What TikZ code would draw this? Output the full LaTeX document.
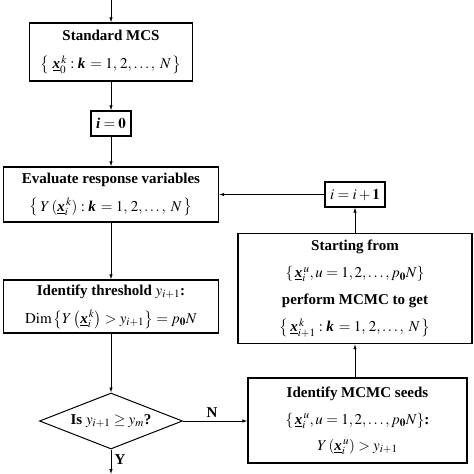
\documentclass[tikz,border=0pt]{standalone}
\usepackage{amsmath}
\usepackage{amssymb}
\usepackage{mathptmx}
\usepackage{fontspec}
\setmainfont{Liberation Serif}
\usetikzlibrary{shapes.geometric,arrows.meta}
\newcommand{\ux}{\underline{\textbf{\textit{x}}}}
\newcommand{\bk}{\textbf{\textit{k}}}
\tikzset{
  box/.style={draw, line width=1.4pt, align=center, inner sep=2pt},
  cond/.style={draw, line width=1pt, diamond, aspect=2.55, inner sep=0pt,
    minimum width=143pt, minimum height=56pt},
  arr/.style={line width=0.8pt, -{Latex[length=5pt,width=3.5pt]}},
  every node/.style={font=\fontsize{15}{26}\selectfont}
}
\begin{document}
\begin{tikzpicture}[x=1pt,y=-1pt]
\useasboundingbox (0,0) rectangle (474,474);
\coordinate (start) at (111,0);
\coordinate (stop) at (111,474);
% left column
\node[box, minimum width=163pt, minimum height=58pt] (mcs) at (111,52)
  {\textbf{Standard MCS}\\[2pt] $\left\{\;\ux_0^{\,k} : \bk\, = 1,\, 2, \dots,\; N\,\right\}$};
\node[box, minimum width=40pt, minimum height=25pt] (init) at (111,123.5)
  {$\textbf{\textit{i}}=\mathbf{0}$};
\node[box, minimum width=215pt, minimum height=55pt] (eval) at (111,194.5)
  {\textbf{Evaluate response variables}\\[2pt] $\left\{\,Y\,(\ux_i^{\,k}) : \bk\, = 1,\, 2, \dots,\; N\,\right\}$};
\node[box, minimum width=215pt, minimum height=53pt] (thr) at (111,306.5)
  {\textbf{Identify threshold $y_{i+1}$:}\\[2pt] $\mathrm{Dim}\left\{Y\left(\ux_i^{\,k}\right) > y_{i+1}\right\} = p_{\mathbf{0}}N$};
\node[cond] (dec) at (111,421) {\textbf{Is $y_{i+1}\geq y_m$?}};
% right column
\node[box, minimum width=60pt, minimum height=25pt] (inc) at (355,194.5)
  {$i=i+\mathbf{1}$};
\node[box, minimum width=234pt, minimum height=110pt] (mcmc) at (355,288.5)
  {\textbf{Starting from}\\[1pt] $\left\{\,\ux_i^{\,u}, u=1,2,\dots,p_{\mathbf{0}}N\right\}$\\[1pt]
   \textbf{perform MCMC to get}\\[1pt] $\left\{\,\ux_{i+1}^{\,k} : \bk\, = 1,\, 2, \dots,\; N\,\right\}$};
\node[box, minimum width=219pt, minimum height=85pt] (seeds) at (357.5,420.5)
  {\textbf{Identify MCMC seeds}\\[1pt] $\left\{\,\ux_i^{\,u}, u=1,2,\dots,p_{\mathbf{0}}N\right\}$\textbf{:}\\
   $Y\left(\ux_i^{\,u}\right) > y_{i+1}$};
% connectors
\draw[arr] (start) -- (mcs);
\draw[arr] (mcs) -- (init);
\draw[arr] (init) -- (eval);
\draw[arr] (eval) -- (thr);
\draw[arr] (thr) -- (dec);
\draw[arr] (dec) -- node[right, pos=0.4] {\textbf{Y}} (stop);
\draw[arr] (dec.east) -- node[above, pos=0.45] {\textbf{N}} (dec.east -| seeds.west);
\draw[arr] (seeds.north -| inc) -- (mcmc.south -| inc);
\draw[arr] (mcmc.north -| inc) -- (inc);
\draw[arr] (inc) -- (inc -| eval.east);
\end{tikzpicture}
\end{document}
